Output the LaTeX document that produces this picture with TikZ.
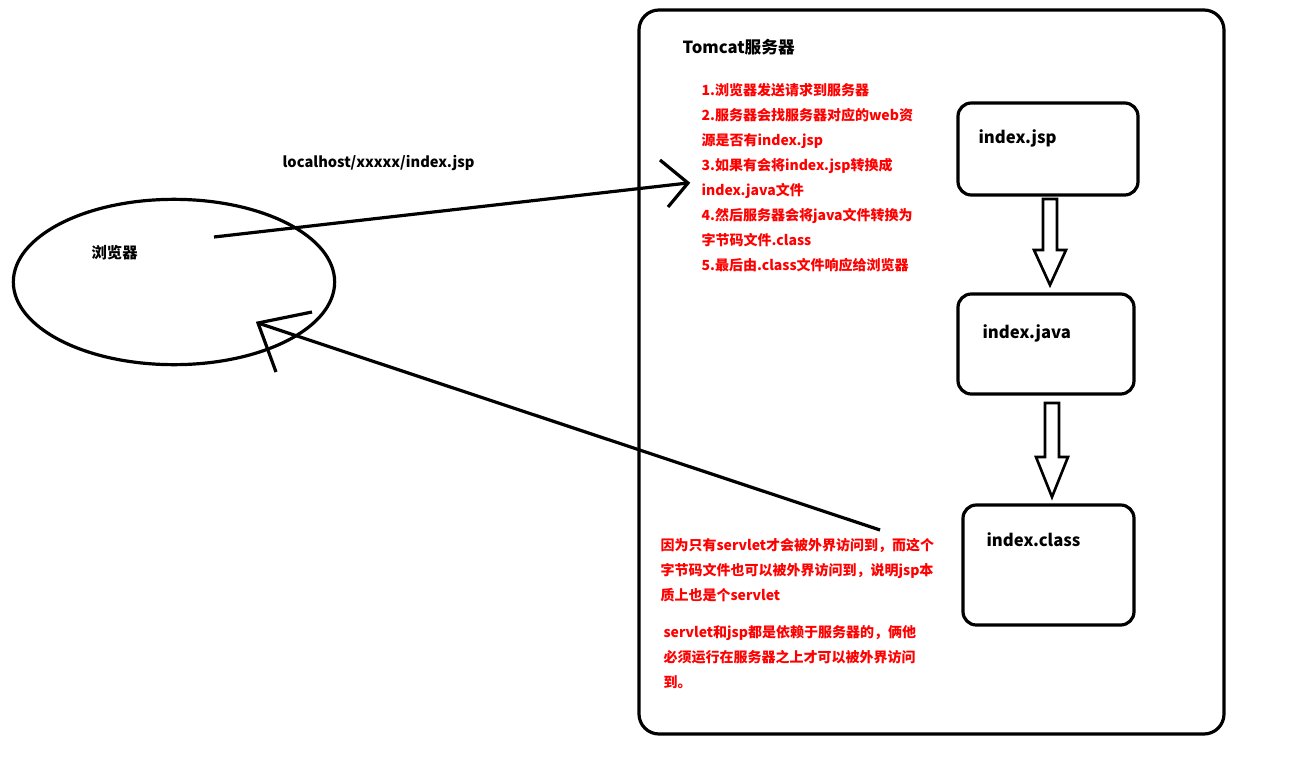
\documentclass[tikz,border=0pt]{standalone}
\usepackage{fontspec}
\usetikzlibrary{shapes.geometric}
\setmainfont{Noto Sans CJK SC}
\begin{document}
\begin{tikzpicture}[x=0.75pt,y=-0.75pt,line width=2.4pt,
  box/.style={draw,rounded corners=10pt},
  lbl/.style={anchor=west,font=\bfseries\fontsize{12.5}{14}\selectfont,inner sep=0},
  red/.style={anchor=north west,align=left,text=red,inner sep=0,font=\bfseries\fontsize{10.5}{18.75}\selectfont}]
\useasboundingbox (0,0) rectangle (1307,767);
\node[draw,ellipse,minimum width=241pt,minimum height=124pt,inner sep=0,line width=2.4pt] (br) at (174,282) {};
\draw[rounded corners=15pt] (639,10) rectangle (1224,734);
\node[lbl] (title) at (681,47) {Tomcat服务器};
\node[lbl,font=\bfseries\fontsize{11.5}{14}\selectfont] (bn) at (90,253) {浏览器};
\node[lbl,font=\bfseries\fontsize{11}{14}\selectfont] (url) at (281,163) {localhost/xxxxx/index.jsp};
\draw[box] (958,103) rectangle (1138,195);
\draw[box] (958,294) rectangle (1134,394);
\draw[box] (963,505) rectangle (1134,625);
\node[lbl] (jsp) at (977,138) {index.jsp};
\node[lbl] (java) at (981,333) {index.java};
\node[lbl] (cls) at (985,540) {index.class};
\draw[line width=2pt] (1043,199)--(1057,199)--(1057,250)--(1066,250)--(1050,285)--(1034,250)--(1043,250)--cycle;
\draw[line width=2pt] (1045,403)--(1059,403)--(1059,457)--(1068,457)--(1052,497)--(1036,457)--(1045,457)--cycle;
\coordinate (a1) at (214,237); \coordinate (t1) at (688,183);
\draw (a1)--(t1); \draw (660,160)--(t1)--(668,207);
\coordinate (a2) at (880,530); \coordinate (t2) at (258,323);
\draw (a2)--(t2); \draw (312,312)--(t2)--(276,372);
\node[red] (steps) at (700,82) {1.浏览器发送请求到服务器\\2.服务器会找服务器对应的web资\\源是否有index.jsp\\3.如果有会将index.jsp转换成\\index.java文件\\4.然后服务器会将java文件转换为\\字节码文件.class\\5.最后由.class文件响应给浏览器};
\node[red] (n1) at (659,537) {因为只有servlet才会被外界访问到，而这个\\字节码文件也可以被外界访问到，说明jsp本\\质上也是个servlet};
\node[red] (n2) at (662,624) {servlet和jsp都是依赖于服务器的，俩他\\必须运行在服务器之上才可以被外界访问\\到。};
\end{tikzpicture}
\end{document}
